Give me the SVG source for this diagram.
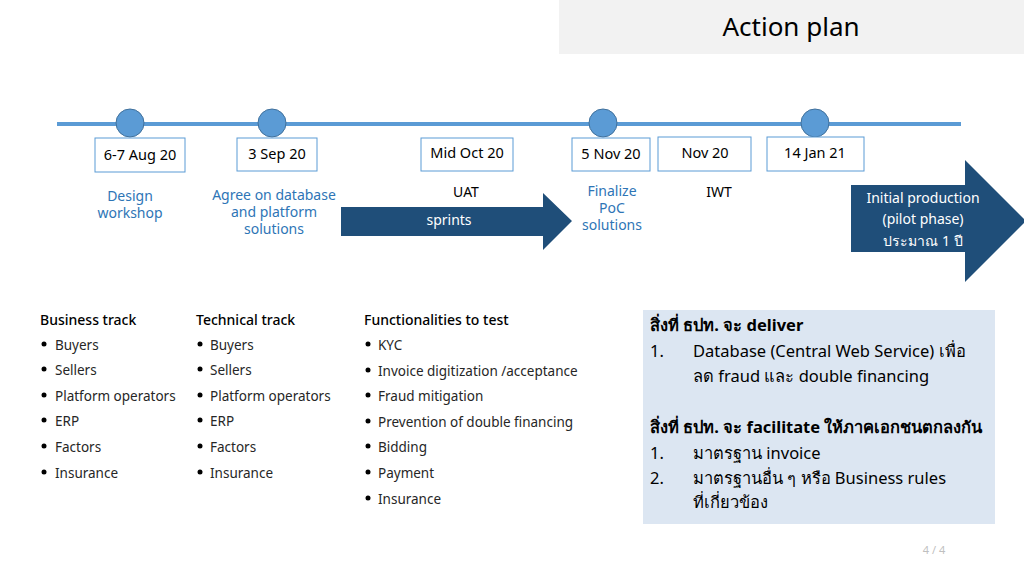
<svg xmlns="http://www.w3.org/2000/svg" width="1024" height="576" viewBox="0 0 1024 576">
<style>
text{font-family:"Noto Sans","Liberation Sans",sans-serif;}
.date{font-size:14.5px;fill:#000;text-anchor:middle;}
.dbox{fill:#fff;stroke:#5b9bd5;stroke-width:1;}
.ms{fill:#5b9bd5;stroke:#41719c;stroke-width:1;}
.blue{font-size:14px;fill:#2e75b6;text-anchor:middle;}
.blk{font-size:14px;fill:#000;text-anchor:middle;}
.wht{font-size:14px;fill:#fff;text-anchor:middle;}
.arrow{fill:#1f4e79;}
.hd{font-size:14px;fill:#000;font-weight:500;}
.it{font-size:13.5px;fill:#262626;}
.bul{fill:#000;}
.th{font-size:16.5px;fill:#000;}
.thb{font-size:16.5px;fill:#000;font-weight:bold;}
</style>
<rect x="0" y="0" width="1024" height="576" fill="#fff"/>
<g id="title">
<rect x="559" y="0" width="465" height="54" fill="#f2f2f2"/>
<text x="791" y="36" font-size="26" text-anchor="middle" fill="#000">Action plan</text>
</g>
<g id="connectors">
<line x1="57" y1="124" x2="961" y2="124" stroke="#5b9bd5" stroke-width="4"/>
</g>
<g id="m1"><circle class="ms" cx="130" cy="123" r="14"/><rect class="dbox" x="95" y="138" width="90" height="34"/><text class="date" x="140" y="160">6-7 Aug 20</text><text class="blue" x="130" y="201">Design</text><text class="blue" x="130" y="218">workshop</text></g>
<g id="m2"><circle class="ms" cx="272" cy="123" r="14"/><rect class="dbox" x="237" y="138" width="80" height="33"/><text class="date" x="277" y="159">3 Sep 20</text><text class="blue" x="274" y="200">Agree on database</text><text class="blue" x="274" y="217">and platform</text><text class="blue" x="274" y="234">solutions</text></g>
<g id="m3"><rect class="dbox" x="421" y="138" width="92" height="33"/><text class="date" x="467" y="158">Mid Oct 20</text><text class="blk" x="466" y="197">UAT</text></g>
<g id="sprints"><polygon class="arrow" points="341,207 543,207 543,193 572,221 543,250 543,236 341,236"/><text class="wht" x="449" y="225">sprints</text></g>
<g id="m4"><circle class="ms" cx="603" cy="123" r="14"/><rect class="dbox" x="572" y="138" width="78" height="33"/><text class="date" x="611" y="159">5 Nov 20</text><text class="blue" x="612" y="196">Finalize</text><text class="blue" x="612" y="213">PoC</text><text class="blue" x="612" y="230">solutions</text></g>
<g id="m5"><rect class="dbox" x="658" y="137" width="93" height="34"/><text class="date" x="705" y="158">Nov 20</text><text class="blk" x="719" y="197">IWT</text></g>
<g id="m6"><circle class="ms" cx="815" cy="123" r="14"/><rect class="dbox" x="767" y="137" width="97" height="34"/><text class="date" x="815" y="158">14 Jan 21</text></g>
<g id="pilot"><polygon class="arrow" points="851,185 965,185 965,160 1026,221 965,282 965,252 851,252"/><text class="wht" x="923" y="203">Initial production</text><text class="wht" x="923" y="224">(pilot phase)</text><text class="wht" x="923" y="246">ประมาณ 1 ปี</text></g>
<g id="business">
<text class="hd" x="40" y="325">Business track</text>
<circle class="bul" cx="44" cy="344" r="2.5"/><text class="it" x="55" y="350">Buyers</text>
<circle class="bul" cx="44" cy="369" r="2.5"/><text class="it" x="55" y="375">Sellers</text>
<circle class="bul" cx="44" cy="395" r="2.5"/><text class="it" x="55" y="401">Platform operators</text>
<circle class="bul" cx="44" cy="420" r="2.5"/><text class="it" x="55" y="426">ERP</text>
<circle class="bul" cx="44" cy="446" r="2.5"/><text class="it" x="55" y="452">Factors</text>
<circle class="bul" cx="44" cy="472" r="2.5"/><text class="it" x="55" y="478">Insurance</text>
</g>
<g id="technical">
<text class="hd" x="196" y="325">Technical track</text>
<circle class="bul" cx="200" cy="344" r="2.5"/><text class="it" x="210" y="350">Buyers</text>
<circle class="bul" cx="200" cy="369" r="2.5"/><text class="it" x="210" y="375">Sellers</text>
<circle class="bul" cx="200" cy="395" r="2.5"/><text class="it" x="210" y="401">Platform operators</text>
<circle class="bul" cx="200" cy="420" r="2.5"/><text class="it" x="210" y="426">ERP</text>
<circle class="bul" cx="200" cy="446" r="2.5"/><text class="it" x="210" y="452">Factors</text>
<circle class="bul" cx="200" cy="472" r="2.5"/><text class="it" x="210" y="478">Insurance</text>
</g>
<g id="functionalities">
<text class="hd" x="364" y="325">Functionalities to test</text>
<circle class="bul" cx="368" cy="344" r="2.5"/><text class="it" x="378" y="350">KYC</text>
<circle class="bul" cx="368" cy="370" r="2.5"/><text class="it" x="378" y="376">Invoice digitization /acceptance</text>
<circle class="bul" cx="368" cy="395" r="2.5"/><text class="it" x="378" y="401">Fraud mitigation</text>
<circle class="bul" cx="368" cy="421" r="2.5"/><text class="it" x="378" y="427">Prevention of double financing</text>
<circle class="bul" cx="368" cy="446" r="2.5"/><text class="it" x="378" y="452">Bidding</text>
<circle class="bul" cx="368" cy="472" r="2.5"/><text class="it" x="378" y="478">Payment</text>
<circle class="bul" cx="368" cy="498" r="2.5"/><text class="it" x="378" y="504">Insurance</text>
</g>
<g id="bot">
<rect x="643" y="310" width="352" height="214" fill="#dce6f2"/>
<text class="thb" x="650" y="331">สิ่งที่ ธปท. จะ deliver</text>
<text class="th" x="650" y="357">1.</text><text class="th" x="693" y="357">Database (Central Web Service) เพื่อ</text>
<text class="th" x="693" y="382">ลด fraud และ double financing</text>
<text class="thb" x="650" y="433">สิ่งที่ ธปท. จะ facilitate ให้ภาคเอกชนตกลงกัน</text>
<text class="th" x="650" y="459">1.</text><text class="th" x="693" y="459">มาตรฐาน invoice</text>
<text class="th" x="650" y="484">2.</text><text class="th" x="693" y="484">มาตรฐานอื่น ๆ หรือ Business rules</text>
<text class="th" x="693" y="508">ที่เกี่ยวข้อง</text>
</g>
<text x="934" y="554" font-size="11" fill="#bfbfbf" text-anchor="middle">4 / 4</text>
</svg>
